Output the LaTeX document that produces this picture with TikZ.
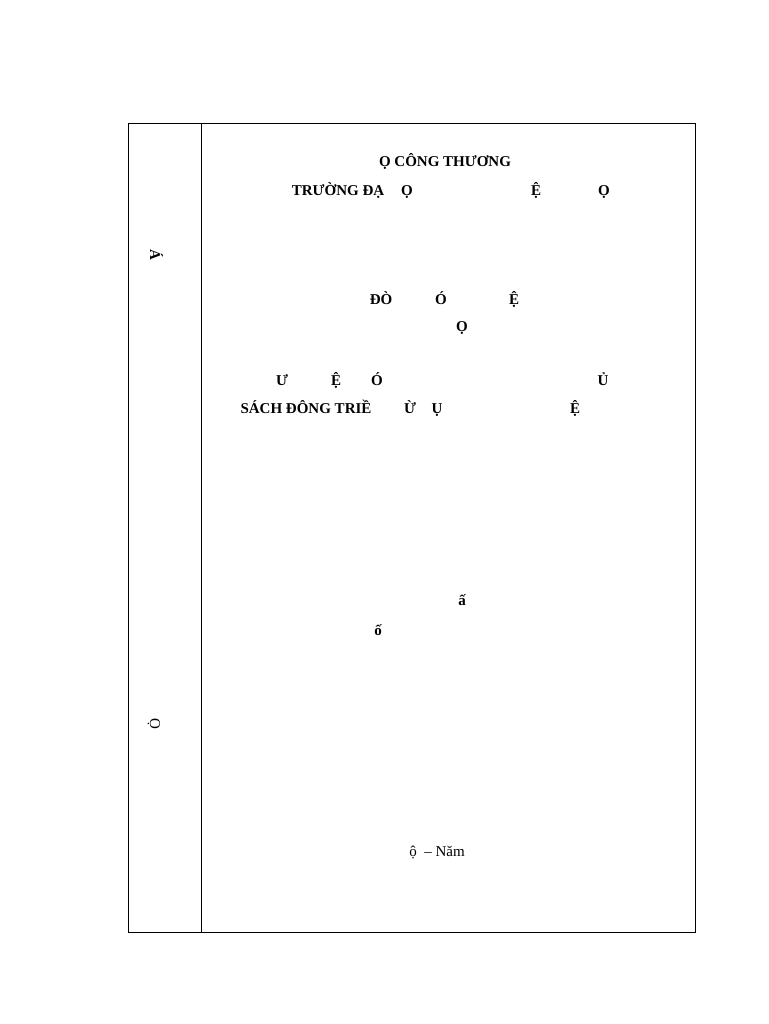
\documentclass[tikz,border=0pt]{standalone}
\usepackage{fontspec}
\setmainfont{Liberation Serif}
\begin{document}
\begin{tikzpicture}[x=1pt,y=-1pt,
  t/.style={font=\fontsize{15}{18}\selectfont\bfseries,inner sep=0pt,anchor=base},
  r/.style={font=\fontsize{15}{18}\selectfont,inner sep=0pt,anchor=base}]
\useasboundingbox (0,0) rectangle (768,1024);
\draw[line width=0.8pt] (128,123) rectangle (695,932);
\draw[line width=0.8pt] (201,123) -- (201,932);
\node[t,rotate=-90] (s1) at (150,255) {Á};
\node[r,rotate=-90] (s2) at (150,724) {Ọ};
\node[t] (a1) at (445,167) {Ọ CÔNG THƯƠNG};
\node[t] (a2) at (338,196) {TRƯỜNG ĐẠ};
\node[t] (a3) at (407,196) {Ọ};
\node[t] (a4) at (536,196) {Ệ};
\node[t] (a5) at (604,196) {Ọ};
\node[t] (b1) at (381,304) {ĐÒ};
\node[t] (b2) at (441,304) {Ó};
\node[t] (b3) at (514,304) {Ệ};
\node[t] (b4) at (462,331) {Ọ};
\node[t] (c1) at (282,385) {Ư};
\node[t] (c2) at (336,385) {Ệ};
\node[t] (c3) at (377,385) {Ó};
\node[t] (c4) at (603,385) {Ủ};
\node[t] (d1) at (306,413) {SÁCH ĐÔNG TRIỀ};
\node[t] (d2) at (410,413) {Ừ};
\node[t] (d3) at (437,413) {Ụ};
\node[t] (d4) at (575,413) {Ệ};
\node[t] (e1) at (462,605) {ấ};
\node[t] (e2) at (378,635) {ố};
\node[r] (f1) at (437,856) {ộ \ – Năm};
\end{tikzpicture}
\end{document}
